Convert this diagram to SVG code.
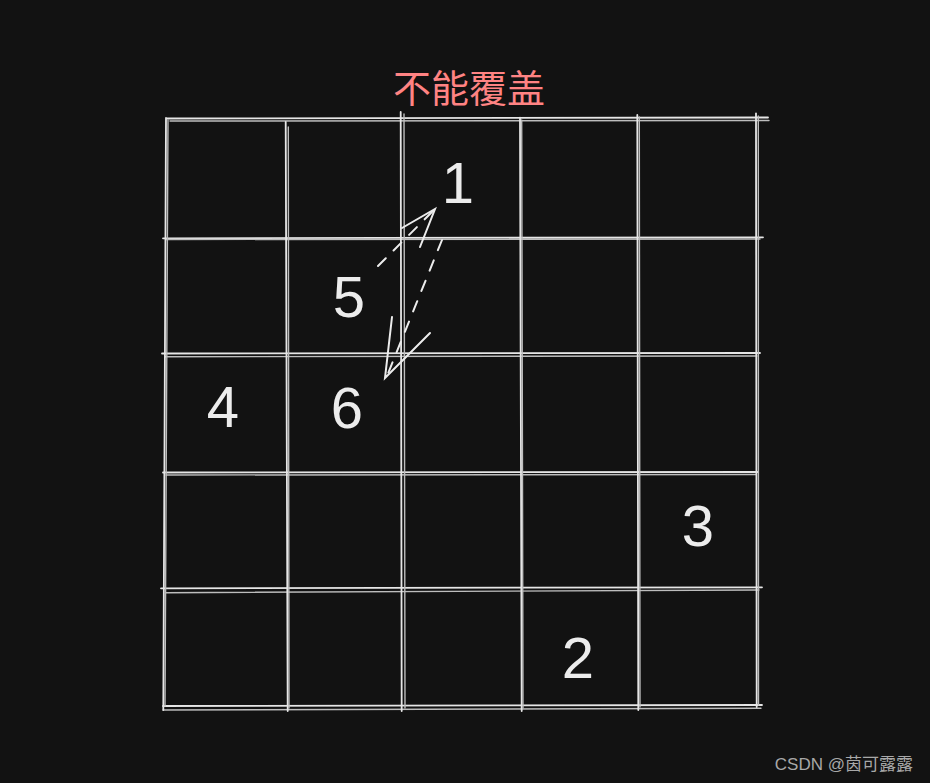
<svg xmlns="http://www.w3.org/2000/svg" width="930" height="783" viewBox="0 0 930 783">
<style>
.g line{stroke:#e6e6e6;stroke-width:1.8;stroke-linecap:round;fill:none}
.g line.b{stroke:#bdbdbd;stroke-width:1.4}
.num{font-family:"Liberation Sans","DejaVu Sans",sans-serif;font-size:58px;fill:#ececec;text-anchor:middle}
.arr{stroke:#ececec;stroke-width:2;fill:none;stroke-linecap:round}
.dash{stroke-dasharray:11 11}
</style>
<rect width="930" height="783" fill="#121212"/>
<text id="title" x="469" y="102" text-anchor="middle" font-family="'Noto Sans CJK SC',sans-serif" font-size="38" fill="#ff8383">不能覆盖</text>
<g id="grid" class="g">
<line x1="167" y1="118.5" x2="768" y2="117.5"/>
<line class="b" x1="170" y1="121" x2="769" y2="120.5"/>
<line x1="163" y1="238.3" x2="763" y2="237.3"/>
<line class="b" x1="166" y1="239.5" x2="760" y2="239"/>
<line x1="162" y1="353.5" x2="760" y2="353"/>
<line class="b" x1="165" y1="356.7" x2="757" y2="356"/>
<line x1="163" y1="472.5" x2="758" y2="472"/>
<line class="b" x1="166" y1="475" x2="756" y2="474.5"/>
<line x1="161" y1="588.3" x2="762" y2="587.3"/>
<line class="b" x1="166" y1="592.7" x2="759" y2="590"/>
<line x1="163" y1="706" x2="762" y2="705"/>
<line class="b" x1="163" y1="710" x2="761" y2="708.3"/>
<line x1="166" y1="118" x2="163.3" y2="710"/>
<line class="b" x1="168" y1="120" x2="165" y2="706"/>
<line x1="285.7" y1="122" x2="287.7" y2="711"/>
<line class="b" x1="288.3" y1="127" x2="289" y2="708"/>
<line x1="400.7" y1="112" x2="401.7" y2="711"/>
<line class="b" x1="404" y1="114" x2="405" y2="708"/>
<line x1="520" y1="117.7" x2="521.7" y2="711"/>
<line class="b" x1="521.7" y1="120" x2="523" y2="708"/>
<line x1="637.3" y1="115" x2="638.3" y2="710"/>
<line class="b" x1="639.3" y1="117" x2="640" y2="707"/>
<line x1="756" y1="113.3" x2="756.7" y2="707"/>
<line class="b" x1="758.3" y1="116" x2="758.5" y2="705"/>
</g>
<g id="connectors">
<g id="arrow-5-1">
<line class="arr dash" x1="378" y1="266" x2="433" y2="211"/>
<polyline class="arr" points="402,228 435,209 420,247"/>
</g>
<g id="arrow-1-6">
<line class="arr dash" x1="442" y1="240" x2="387" y2="376"/>
<polyline class="arr" points="392,317 385,378 430,333"/>
</g>
</g>
<g id="n1"><text class="num" x="458" y="203">1</text></g>
<g id="n5"><text class="num" x="349" y="317">5</text></g>
<g id="n4"><text class="num" x="223" y="427">4</text></g>
<g id="n6"><text class="num" x="347" y="428">6</text></g>
<g id="n3"><text class="num" x="698" y="546">3</text></g>
<g id="n2"><text class="num" x="578" y="678">2</text></g>
<text id="watermark" x="913" y="770" text-anchor="end" font-family="'Liberation Sans','Noto Sans CJK SC',sans-serif" font-size="17" fill="#a8a8a8">CSDN @茵可露露</text>
</svg>
